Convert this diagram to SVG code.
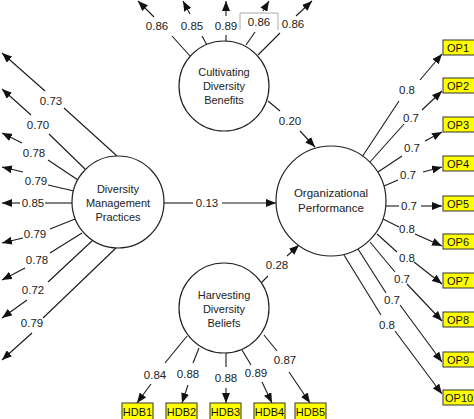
<svg xmlns="http://www.w3.org/2000/svg" width="474" height="419" viewBox="0 0 474 419">
<defs>
<marker id="ah" markerUnits="userSpaceOnUse" markerWidth="10" markerHeight="8" refX="10" refY="4" orient="auto">
<path d="M0,0 L10,4 L0,8 z" fill="#111"/>
</marker>
<style>
.ln{stroke:#1a1a1a;stroke-width:1.1;fill:none}
.ar{stroke:#1a1a1a;stroke-width:1.1;fill:none;marker-end:url(#ah)}
.lb{font-family:"Liberation Sans",Arial,sans-serif;font-size:11.5px;fill:#222;text-anchor:middle}
.ct{font-family:"Liberation Sans",Arial,sans-serif;font-size:11px;fill:#222;text-anchor:middle}
.cir{fill:#fff;stroke:#222;stroke-width:1.2}
.box{fill:#ffff00;stroke:#333;stroke-width:1}
.bt{font-family:"Liberation Sans",Arial,sans-serif;font-size:11px;fill:#111}
</style>
</defs>
<rect width="474" height="419" fill="#fff"/>

<g id="connectors">
<!-- Cultivating indicators -->
<line class="ln" x1="190" y1="56" x2="172" y2="36"/><line class="ar" x1="154" y1="17" x2="138" y2="1"/>
<line class="ln" x1="207" y1="45" x2="202" y2="36"/><line class="ar" x1="190" y1="14" x2="183" y2="1"/>
<line class="ln" x1="226" y1="41" x2="226" y2="35"/><line class="ar" x1="226" y1="16" x2="226" y2="1"/>
<line class="ln" x1="246" y1="45" x2="255" y2="32"/><line class="ar" x1="263" y1="11" x2="269" y2="1"/>
<line class="ln" x1="258" y1="55" x2="280" y2="33"/><line class="ar" x1="296" y1="16" x2="312" y2="1"/>
<path d="M240,30 V13 H278 V30" fill="none" stroke="#aaa" stroke-width="1"/>
<!-- DMP indicators -->
<line class="ln" x1="117" y1="156" x2="64" y2="108"/><line class="ar" x1="45" y1="91" x2="2" y2="53"/>
<line class="ln" x1="85" y1="169" x2="49" y2="134"/><line class="ar" x1="31" y1="115" x2="2" y2="89"/>
<line class="ln" x1="78" y1="180" x2="48" y2="160"/><line class="ar" x1="22" y1="143" x2="2" y2="133"/>
<line class="ln" x1="74" y1="191" x2="48" y2="185"/><line class="ar" x1="23" y1="172" x2="2" y2="167"/>
<line class="ln" x1="72" y1="203" x2="45" y2="203"/><line class="ar" x1="20" y1="203" x2="2" y2="203"/>
<line class="ln" x1="75" y1="219" x2="50" y2="229"/><line class="ar" x1="23" y1="238" x2="2" y2="243"/>
<line class="ln" x1="82" y1="233" x2="50" y2="253"/><line class="ar" x1="25" y1="268" x2="2" y2="280"/>
<line class="ln" x1="93" y1="240" x2="48" y2="282"/><line class="ar" x1="27" y1="300" x2="2" y2="318"/>
<line class="ln" x1="116" y1="248" x2="43" y2="318"/><line class="ar" x1="32" y1="333" x2="2" y2="360"/>
<!-- Structural paths -->
<line class="ln" x1="164" y1="203" x2="193" y2="203"/><line class="ar" x1="222" y1="203" x2="276" y2="203"/>
<line class="ln" x1="268" y1="101" x2="280" y2="111"/><line class="ar" x1="300" y1="131" x2="315" y2="147"/>
<line class="ln" x1="261" y1="283" x2="268" y2="276"/><line class="ar" x1="287" y1="256" x2="299" y2="245"/>
<!-- Harvesting indicators -->
<line class="ln" x1="187" y1="336" x2="165" y2="363"/><line class="ar" x1="151" y1="384" x2="137" y2="403"/>
<line class="ln" x1="199" y1="348" x2="193" y2="363"/><line class="ar" x1="188" y1="385" x2="182" y2="403"/>
<line class="ln" x1="226" y1="353" x2="226" y2="367"/><line class="ar" x1="226" y1="388" x2="226" y2="403"/>
<line class="ln" x1="242" y1="350" x2="251" y2="365"/><line class="ar" x1="262" y1="382" x2="272" y2="403"/>
<line class="ln" x1="264" y1="335" x2="277" y2="351"/><line class="ar" x1="289" y1="372" x2="310" y2="403"/>
<!-- OP indicators -->
<line class="ln" x1="362" y1="157" x2="399" y2="101"/><line class="ar" x1="420" y1="80" x2="442" y2="54"/>
<line class="ln" x1="370" y1="162" x2="404" y2="124"/><line class="ar" x1="422" y1="110" x2="442" y2="91"/>
<line class="ln" x1="378" y1="172" x2="402" y2="156"/><line class="ar" x1="425" y1="141" x2="442" y2="132"/>
<line class="ln" x1="384" y1="186" x2="398" y2="180"/><line class="ar" x1="423" y1="172" x2="442" y2="167"/>
<line class="ln" x1="386" y1="206" x2="399" y2="206"/><line class="ar" x1="421" y1="206" x2="442" y2="206"/>
<line class="ln" x1="383" y1="219" x2="399" y2="227"/><line class="ar" x1="415" y1="234" x2="442" y2="246"/>
<line class="ln" x1="377" y1="234" x2="397" y2="252"/><line class="ar" x1="414" y1="262" x2="442" y2="284"/>
<line class="ln" x1="370" y1="242" x2="395" y2="272"/><line class="ar" x1="407" y1="284" x2="442" y2="321"/>
<line class="ln" x1="358" y1="249" x2="386" y2="293"/><line class="ar" x1="400" y1="305" x2="442" y2="362"/>
<line class="ln" x1="344" y1="255" x2="381" y2="315"/><line class="ar" x1="395" y1="331" x2="442" y2="394"/>
</g>

<g id="labels">
<text class="lb" x="157" y="30">0.86</text>
<text class="lb" x="192" y="30">0.85</text>
<text class="lb" x="226" y="30">0.89</text>
<text class="lb" x="259" y="26">0.86</text>
<text class="lb" x="293" y="28">0.86</text>
<text class="lb" x="51" y="105">0.73</text>
<text class="lb" x="38" y="129">0.70</text>
<text class="lb" x="34" y="157">0.78</text>
<text class="lb" x="36" y="185">0.79</text>
<text class="lb" x="33" y="207">0.85</text>
<text class="lb" x="35" y="238">0.79</text>
<text class="lb" x="37" y="264">0.78</text>
<text class="lb" x="33" y="294">0.72</text>
<text class="lb" x="32" y="327">0.79</text>
<text class="lb" x="207" y="207">0.13</text>
<text class="lb" x="290" y="125">0.20</text>
<text class="lb" x="277" y="269">0.28</text>
<text class="lb" x="155" y="379">0.84</text>
<text class="lb" x="188" y="378">0.88</text>
<text class="lb" x="226" y="382">0.88</text>
<text class="lb" x="256" y="377">0.89</text>
<text class="lb" x="285" y="364">0.87</text>
<text class="lb" x="407" y="94">0.8</text>
<text class="lb" x="411" y="122">0.7</text>
<text class="lb" x="412" y="152">0.7</text>
<text class="lb" x="408" y="179">0.7</text>
<text class="lb" x="409" y="210">0.7</text>
<text class="lb" x="407" y="233">0.8</text>
<text class="lb" x="407" y="262">0.8</text>
<text class="lb" x="402" y="283">0.7</text>
<text class="lb" x="392" y="304">0.7</text>
<text class="lb" x="387" y="329">0.8</text>
</g>

<g id="cdb">
<circle class="cir" cx="224" cy="86" r="45"/>
<text class="ct" x="224" y="76">Cultivating</text>
<text class="ct" x="224" y="90">Diversity</text>
<text class="ct" x="224" y="104">Benefits</text>
</g>
<g id="dmp">
<circle class="cir" cx="118" cy="202" r="46"/>
<text class="ct" x="118" y="193">Diversity</text>
<text class="ct" x="118" y="207">Management</text>
<text class="ct" x="118" y="221">Practices</text>
</g>
<g id="op">
<circle class="cir" cx="331" cy="201" r="55"/>
<text class="ct" x="331" y="197" style="font-size:11.5px">Organizational</text>
<text class="ct" x="331" y="212" style="font-size:11.5px">Performance</text>
</g>
<g id="hdb">
<circle class="cir" cx="224" cy="308" r="45"/>
<text class="ct" x="224" y="299">Harvesting</text>
<text class="ct" x="224" y="313">Diversity</text>
<text class="ct" x="224" y="327">Beliefs</text>
</g>

<g id="op1"><rect class="box" x="443" y="40" width="40" height="15"/><text class="bt" x="447" y="51.5">OP1</text></g>
<g id="op2"><rect class="box" x="443" y="78" width="40" height="15"/><text class="bt" x="447" y="89.5">OP2</text></g>
<g id="op3"><rect class="box" x="443" y="117" width="40" height="15"/><text class="bt" x="447" y="128.5">OP3</text></g>
<g id="op4"><rect class="box" x="443" y="156" width="40" height="15"/><text class="bt" x="447" y="167.5">OP4</text></g>
<g id="op5"><rect class="box" x="443" y="196" width="40" height="15"/><text class="bt" x="447" y="207.5">OP5</text></g>
<g id="op6"><rect class="box" x="443" y="234" width="40" height="15"/><text class="bt" x="447" y="245.5">OP6</text></g>
<g id="op7"><rect class="box" x="443" y="273" width="40" height="15"/><text class="bt" x="447" y="284.5">OP7</text></g>
<g id="op8"><rect class="box" x="443" y="312" width="40" height="15"/><text class="bt" x="447" y="323.5">OP8</text></g>
<g id="op9"><rect class="box" x="443" y="352" width="40" height="15"/><text class="bt" x="447" y="363.5">OP9</text></g>
<g id="op10"><rect class="box" x="443" y="390" width="40" height="15"/><text class="bt" x="445" y="401.5">OP10</text></g>

<g id="hdb1"><rect class="box" x="122" y="403" width="31" height="20"/><text class="bt" x="137.5" y="416" text-anchor="middle">HDB1</text></g>
<g id="hdb2"><rect class="box" x="166" y="403" width="31" height="20"/><text class="bt" x="181.5" y="416" text-anchor="middle">HDB2</text></g>
<g id="hdb3"><rect class="box" x="210" y="403" width="31" height="20"/><text class="bt" x="225.5" y="416" text-anchor="middle">HDB3</text></g>
<g id="hdb4"><rect class="box" x="254" y="403" width="31" height="20"/><text class="bt" x="269.5" y="416" text-anchor="middle">HDB4</text></g>
<g id="hdb5"><rect class="box" x="295" y="403" width="31" height="20"/><text class="bt" x="310.5" y="416" text-anchor="middle">HDB5</text></g>
</svg>
